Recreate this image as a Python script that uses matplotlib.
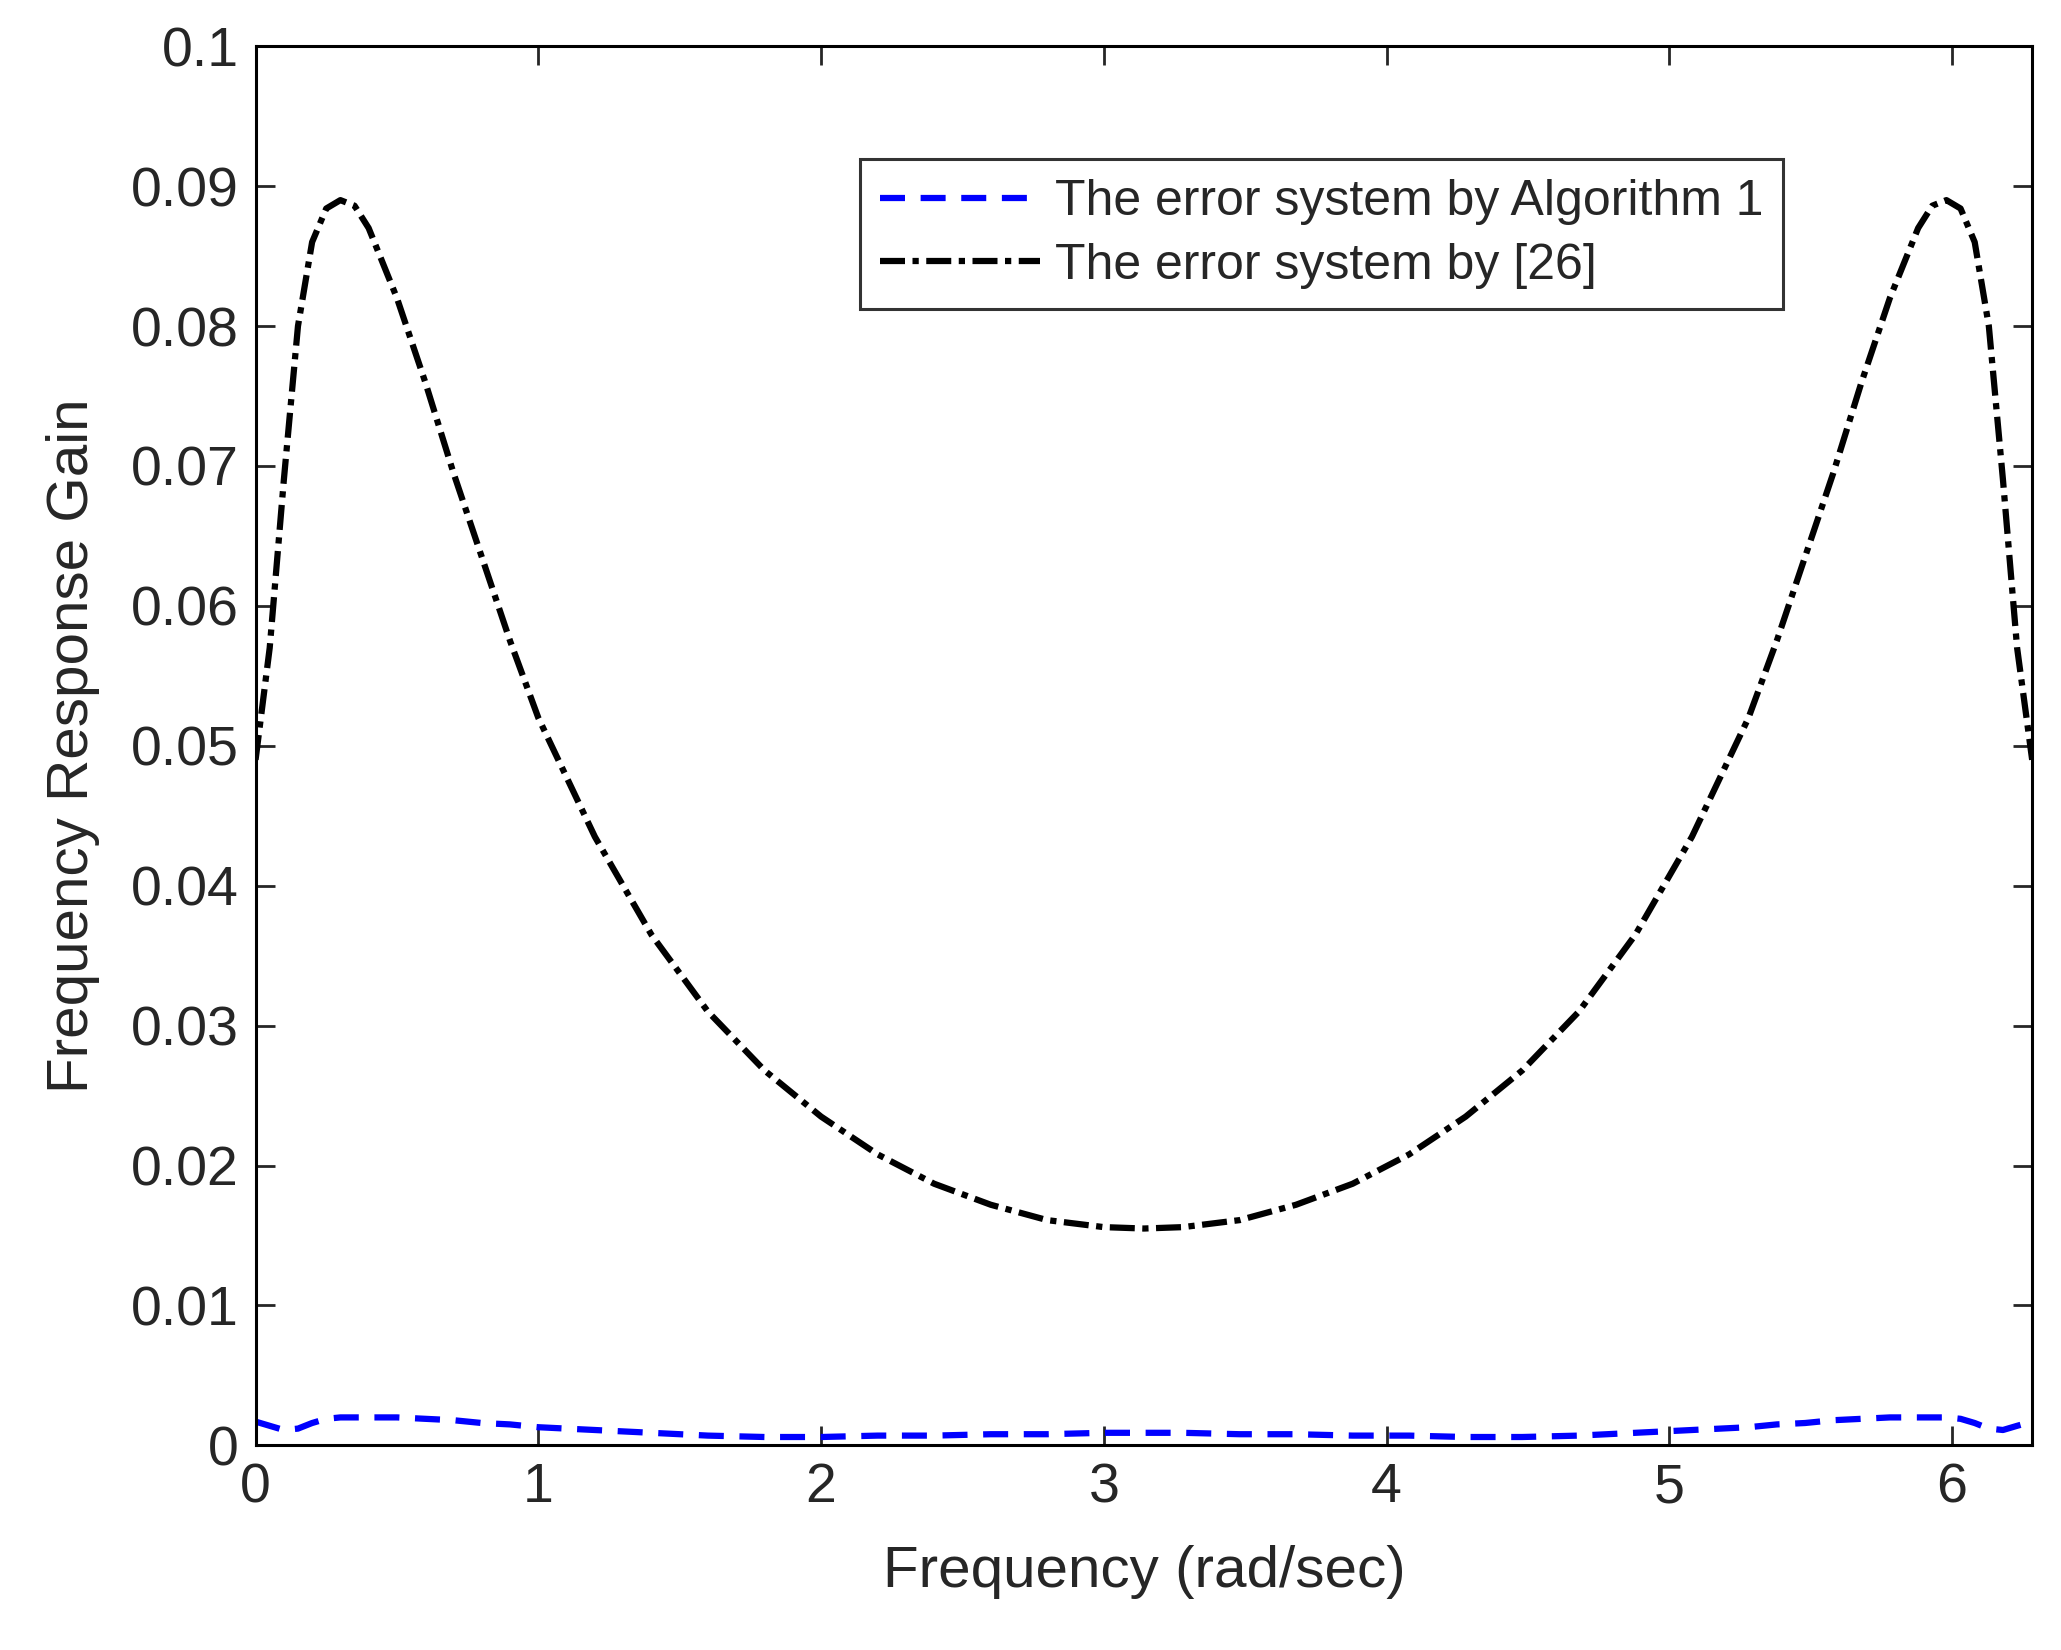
import numpy as np
import matplotlib.pyplot as plt

plt.rcParams['font.family'] = ['Liberation Sans', 'DejaVu Sans']

freq = [0.0, 0.05, 0.1, 0.15, 0.2, 0.25, 0.3, 0.35, 0.4, 0.5, 0.6, 0.7, 0.8, 0.9, 1.0,
        1.2, 1.4, 1.6, 1.8, 2.0, 2.2, 2.4, 2.6, 2.8, 3.0, 3.1416,
        3.28, 3.48, 3.68, 3.88, 4.08, 4.28, 4.48, 4.68, 4.88, 5.08, 5.28, 5.38, 5.48,
        5.58, 5.68, 5.78, 5.88, 5.93, 5.98, 6.03, 6.08, 6.13, 6.18, 6.23, 6.2832]
gain_26 = [0.049, 0.057, 0.069, 0.080, 0.086, 0.0884, 0.089, 0.0886, 0.087, 0.082, 0.076,
           0.0695, 0.0635, 0.0575, 0.052, 0.0435, 0.0365, 0.031, 0.0268, 0.0235, 0.0208,
           0.0187, 0.0172, 0.0161, 0.0156, 0.0155,
           0.0156, 0.0161, 0.0172, 0.0187, 0.0208, 0.0235, 0.0268, 0.031, 0.0365, 0.0435,
           0.052, 0.0575, 0.0635, 0.0695, 0.076, 0.082, 0.087, 0.0886, 0.089, 0.0884,
           0.086, 0.080, 0.069, 0.057, 0.049]
gain_alg1 = [0.0017, 0.0014, 0.0011, 0.0012, 0.0016, 0.0019, 0.002, 0.002, 0.002, 0.002,
             0.0019, 0.0018, 0.0016, 0.0015, 0.0013, 0.0011, 0.0009, 0.0007, 0.0006,
             0.0006, 0.0007, 0.0007, 0.0008, 0.0008, 0.0009, 0.0009,
             0.0009, 0.0008, 0.0008, 0.0007, 0.0007, 0.0006, 0.0006, 0.0007, 0.0009,
             0.0011, 0.0013, 0.0015, 0.0016, 0.0018, 0.0019, 0.002, 0.002, 0.002, 0.002,
             0.0019, 0.0016, 0.0012, 0.0011, 0.0014, 0.0017]

fig = plt.figure(figsize=(20.61, 16.5), dpi=100)
ax = fig.add_axes([0.124, 0.124, 0.862, 0.848])
tc = '#262626'

ax.plot(freq, gain_alg1, color='blue', ls=(0, (4, 2.5)), lw=4.5,
        label='The error system by Algorithm 1')
ax.plot(freq, gain_26, color='black', ls=(0, (4, 1.2, 1, 1.2)), lw=4.5,
        label='The error system by [26]')

ax.set_xlim(0, 2*np.pi)
ax.set_ylim(0, 0.1)
ax.set_xticks(range(7))
ax.set_yticks(np.arange(0, 0.1001, 0.01))
ax.set_yticklabels(['0'] + ['%.2f' % v for v in np.arange(0.01, 0.0951, 0.01)] + ['0.1'])
ax.tick_params(direction='in', top=True, right=True, length=14, width=2,
               labelsize=40, colors=tc, pad=12)
for s in ax.spines.values():
    s.set_linewidth(2.2)
ax.set_xlabel('Frequency (rad/sec)', fontsize=42, color=tc, labelpad=22)
ax.set_ylabel('Frequency Response Gain', fontsize=42, color=tc, labelpad=22)

leg = ax.legend(loc='upper right', bbox_to_anchor=(0.874, 0.937), fontsize=36,
                fancybox=False, edgecolor='black', handlelength=3.2,
                borderpad=0.4, labelspacing=0.35, handletextpad=0.3)
leg.get_frame().set_linewidth(2.2)
for t in leg.get_texts():
    t.set_color(tc)

fig.savefig('out.png', dpi=100)
